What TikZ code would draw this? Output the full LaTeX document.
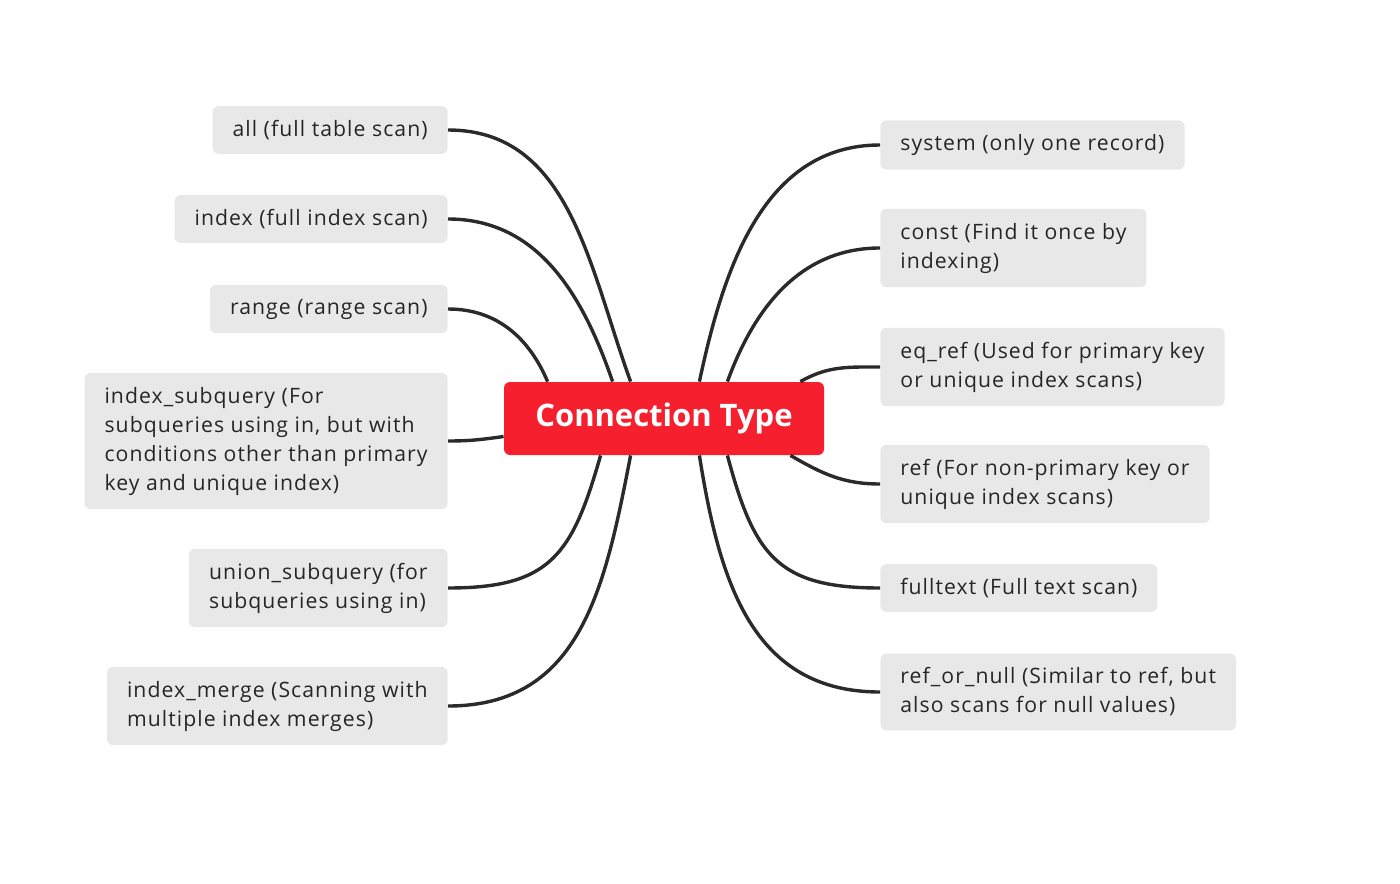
\documentclass[tikz,border=0pt]{standalone}
\usepackage{fontspec}
\setmainfont{Open Sans}
\newfontfamily\leaffont{Open Sans}[LetterSpace=5.0]
\definecolor{ctred}{HTML}{F61F2E}
\definecolor{ctgray}{HTML}{E8E8E8}
\definecolor{ctline}{HTML}{2A2A2A}
\definecolor{cttext}{HTML}{262626}

\begin{document}
\begin{tikzpicture}[
  x=0.5pt, y=-0.5pt,
  root/.style={fill=ctred,rounded corners=3pt,minimum width=160pt,minimum height=36.5pt,
               font=\fontsize{15.5}{19}\selectfont\bfseries,text=white,inner sep=0pt},
  leaf/.style={fill=ctgray,rounded corners=3pt,align=left,text=cttext,
               font=\leaffont\fontsize{10.6}{14.5}\selectfont,inner xsep=10pt,inner ysep=7pt},
  link/.style={ctline,line width=1.7pt}
]
\useasboundingbox (0,0) rectangle (1400,883);

% ---- Centre -------------------------------------------------
\node[root] (root) at (664,418.5) {Connection Type};

% ---- Left branches ------------------------------------------
\node[leaf,anchor=east] (all)   at (448,130) {all (full table scan)};
\node[leaf,anchor=east] (index) at (448,219) {index (full index scan)};
\node[leaf,anchor=east] (range) at (448,309) {range (range scan)};
\node[leaf,anchor=east] (isub)  at (448,441)
  {index\_subquery (For\\subqueries using in, but with\\conditions other than primary\\key and unique index)};
\node[leaf,anchor=east] (usub)  at (448,588)
  {union\_subquery (for\\subqueries using in)};
\node[leaf,anchor=east] (imerge) at (448,706)
  {index\_merge (Scanning with\\multiple index merges)};

% ---- Right branches -----------------------------------------
\node[leaf,anchor=west] (system) at (880,145) {system (only one record)};
\node[leaf,anchor=west] (const)  at (880,248) {const (Find it once by\\indexing)};
\node[leaf,anchor=west] (eqref)  at (880,367) {eq\_ref (Used for primary key\\or unique index scans)};
\node[leaf,anchor=west] (ref)    at (880,484) {ref (For non-primary key or\\unique index scans)};
\node[leaf,anchor=west] (fullt)  at (880,588) {fulltext (Full text scan)};
\node[leaf,anchor=west] (refnull) at (880,692) {ref\_or\_null (Similar to ref, but\\also scans for null values)};

% ---- Connectors ---------------------------------------------
\draw[link] (all.east)   to[out=0,in=110] ([xshift=63.5pt]root.north west);
\draw[link] (index.east) to[out=0,in=109] ([xshift=54.5pt]root.north west);
\draw[link] (range.east) to[out=0,in=113] ([xshift=22pt]root.north west);
\draw[link] (isub.east)  to[out=0,in=188] ([yshift=-9pt]root.west);
\draw[link] (usub.east)  to[out=0,in=254,looseness=1.3] ([xshift=48.5pt]root.south west);
\draw[link] (imerge.east) to[out=0,in=259,looseness=1.1] ([xshift=63.5pt]root.south west);

\draw[link] (system.west)  to[out=180,in=78] ([xshift=-62.5pt]root.north east);
\draw[link] (const.west)   to[out=180,in=70] ([xshift=-48.5pt]root.north east);
\draw[link] (eqref.west)   to[out=180,in=30] ([xshift=-12pt]root.north east);
\draw[link] (ref.west)     to[out=180,in=-30] ([xshift=-17pt]root.south east);
\draw[link] (fullt.west)   to[out=180,in=285,looseness=1.3] ([xshift=-48.5pt]root.south east);
\draw[link] (refnull.west) to[out=180,in=279,looseness=1.1] ([xshift=-62.5pt]root.south east);

\end{tikzpicture}
\end{document}
